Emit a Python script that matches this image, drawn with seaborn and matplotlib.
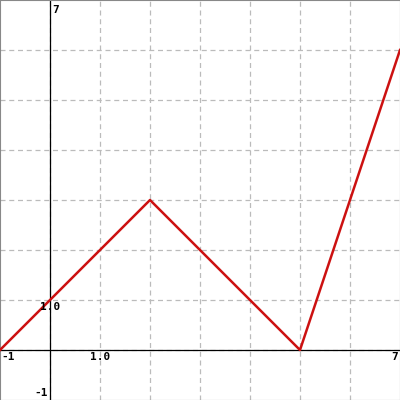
import matplotlib
matplotlib.use("Agg")
import matplotlib.pyplot as plt
import seaborn as sns
import pandas as pd

x_vals = [-1, 2, 5, 7]
y_vals = [0, 3, 0, 6]
x_min, x_max = -1, 7
y_min, y_max = -1, 7

df = pd.DataFrame({"x": x_vals, "y": y_vals})

fig = plt.figure(figsize=(4, 4), dpi=100)
ax = fig.add_axes([0, 0, 1, 1])
ax.set_xlim(x_min, x_max)
ax.set_ylim(y_min, y_max)

# dashed grid every unit
for v in range(x_min + 1, x_max):
    ax.axvline(v, color="#bbbbbb", linestyle=(0, (4, 3)), linewidth=0.9, zorder=0)
for v in range(y_min + 1, y_max):
    ax.axhline(v, color="#bbbbbb", linestyle=(0, (4, 3)), linewidth=0.9, zorder=0)

ax.axhline(0, color="black", linewidth=0.9, zorder=1)
ax.axvline(0, color="black", linewidth=0.9, zorder=1)

sns.lineplot(data=df, x="x", y="y", color="#cc1111", linewidth=1.8, ax=ax, zorder=3)

ax.set_xticks([])
ax.set_yticks([])
ax.set_xlabel("")
ax.set_ylabel("")
for s in ax.spines.values():
    s.set_color("#888888")

font = dict(family="DejaVu Sans Mono", fontsize=8, fontweight="bold")
ax.text(0.05, 6.9, "7", va="top", ha="left", **font)
ax.text(-0.05, -0.95, "-1", va="bottom", ha="right", **font)
ax.text(-0.97, -0.05, "-1", va="top", ha="left", **font)
ax.text(6.97, -0.05, "7", va="top", ha="right", **font)
ax.text(0.0, 0.95, "1.0", va="top", ha="center", zorder=4, **font)
ax.text(1.0, -0.05, "1.0", va="top", ha="center", **font)

fig.savefig("out.png", dpi=100)
